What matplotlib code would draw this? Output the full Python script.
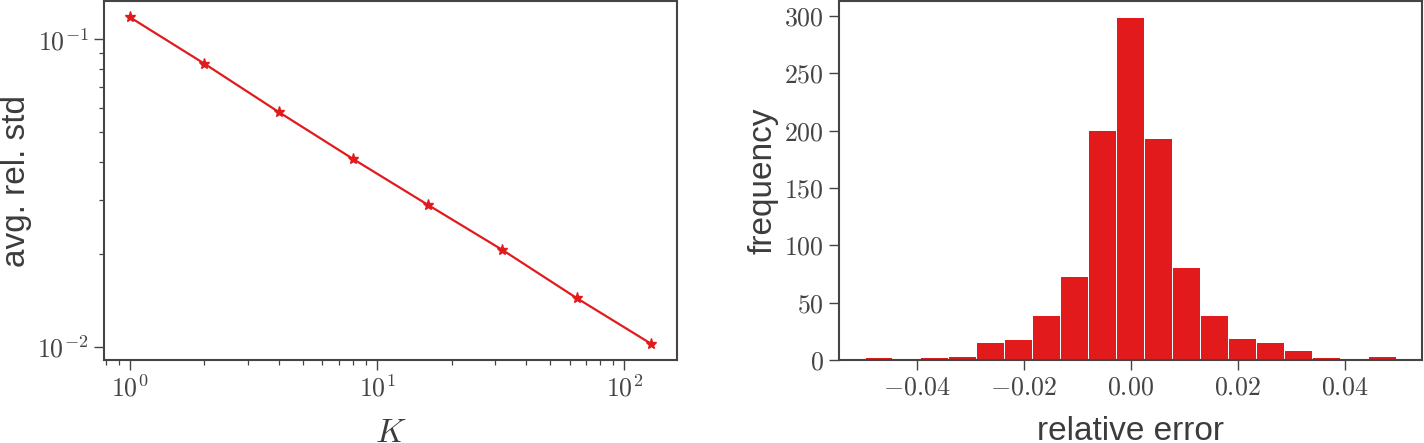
import numpy as np
import matplotlib
matplotlib.use("Agg")
import matplotlib.pyplot as plt
from matplotlib.ticker import FuncFormatter

RED = "#e31a1c"
INK = "#444444"

# left panel: averaged relative std vs K
K_VALUES = [1, 2, 4, 8, 16, 32, 64, 128]
AVG_REL_STD = [0.1179, 0.0833, 0.0580, 0.0408, 0.0290, 0.0207, 0.01443, 0.01025]

# right panel: histogram of relative errors (19 bins)
HIST_LO, HIST_HI = -0.0498, 0.0497
HIST_COUNTS = [2, 0, 2, 3, 15, 17, 38, 72, 200, 298, 193, 80, 38, 18, 15, 8, 2, 1, 3]
X_TICKS = [-0.04, -0.02, 0.00, 0.02, 0.04]
Y_TICKS = [0, 50, 100, 150, 200, 250, 300]

plt.rcParams["mathtext.fontset"] = "cm"
plt.rcParams["font.family"] = ["Liberation Sans", "DejaVu Sans"]
plt.rcParams["axes.edgecolor"] = INK
plt.rcParams["axes.linewidth"] = 1.5
plt.rcParams["xtick.color"] = INK
plt.rcParams["ytick.color"] = INK
plt.rcParams["axes.labelcolor"] = "#3c3c3c"

fig = plt.figure(figsize=(14.24, 4.43), dpi=100)
ax1 = fig.add_axes([0.07303, 0.18736, 0.40239, 0.81038])
ax2 = fig.add_axes([0.58919, 0.18736, 0.40941, 0.81038])


def style_ticks(ax):
    ax.tick_params(which="major", direction="out", length=7, width=1.0,
                   labelsize=18.7, pad=4)
    ax.tick_params(which="minor", direction="out", length=3.6, width=0.9)


# ---- left: log-log line
ax1.plot(K_VALUES, AVG_REL_STD, color=RED, lw=1.6, marker="*", ms=8)
ax1.set_xscale("log")
ax1.set_yscale("log")
pow_fmt = FuncFormatter(lambda v, p: r"$10^{%d}$" % round(np.log10(v)))
ax1.xaxis.set_major_formatter(pow_fmt)
ax1.yaxis.set_major_formatter(pow_fmt)
ax1.yaxis.set_minor_formatter(FuncFormatter(lambda v, p: ""))
style_ticks(ax1)
ax1.set_xlabel(r"$K$", fontsize=24, labelpad=12)
ax1.set_ylabel("avg. rel. std", fontsize=24, labelpad=4)

# ---- right: histogram
edges = np.linspace(HIST_LO, HIST_HI, len(HIST_COUNTS) + 1)
centers = (edges[:-1] + edges[1:]) / 2
ax2.hist(centers, bins=edges, weights=HIST_COUNTS, color=RED,
         rwidth=0.94, linewidth=0)
ax2.set_xticks(X_TICKS)
ax2.set_yticks(Y_TICKS)
ax2.xaxis.set_major_formatter(FuncFormatter(lambda v, p: r"$%.2f$" % v))
ax2.yaxis.set_major_formatter(FuncFormatter(lambda v, p: r"$%d$" % v))
style_ticks(ax2)
ax2.set_xlabel("relative error", fontsize=24, labelpad=12)
ax2.set_ylabel("frequency", fontsize=24, labelpad=4)

fig.savefig("out.png", dpi=100)
